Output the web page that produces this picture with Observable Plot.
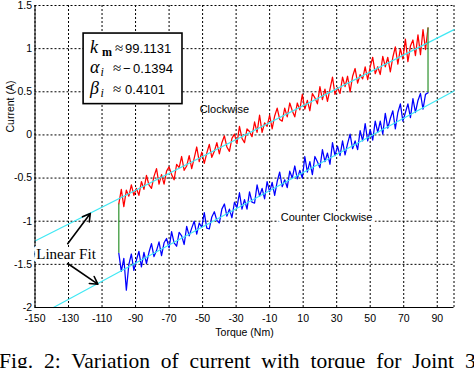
<!DOCTYPE html>
<html><head><meta charset="utf-8">
<script src="https://cdn.jsdelivr.net/npm/d3@7"></script>
<script src="https://cdn.jsdelivr.net/npm/@observablehq/plot@0.6"></script>
<style>
html,body{margin:0;padding:0;background:#fff;width:474px;height:368px;overflow:hidden;position:relative}
#chart{position:absolute;left:0;top:0}
#caption{position:absolute;left:-1px;top:351px;font-family:"Liberation Serif","Times New Roman",serif;font-size:21.5px;line-height:21.5px;word-spacing:5.5px;white-space:nowrap;color:#000}
</style></head><body>
<div id="chart"></div>
<div id="caption">Fig. 2: Variation of current with torque for Joint 3</div>
<script>
// torque sample grid (Nm)
const torque = d3.range(-100, 85, 1.5);
// measured current, clockwise (A)
const clockwise = [
-0.80,-0.63,-0.83,-0.64,-0.71,-0.58,-0.70,-0.62,-0.70,-0.54,
-0.63,-0.47,-0.58,-0.62,-0.48,-0.39,-0.57,-0.46,-0.57,-0.42,
-0.37,-0.46,-0.52,-0.34,-0.38,-0.25,-0.41,-0.36,-0.24,-0.39,
-0.27,-0.14,-0.31,-0.20,-0.33,-0.21,-0.11,-0.26,-0.19,-0.09,
-0.22,-0.09,-0.01,-0.14,-0.19,-0.04,0.01,-0.10,0.10,-0.04,
-0.09,0.07,0.04,-0.02,0.15,0.03,0.23,0.03,0.14,0.10,
0.23,0.07,0.22,0.31,0.18,0.16,0.31,0.21,0.37,0.28,
0.21,0.37,0.29,0.47,0.30,0.40,0.28,0.48,0.43,0.36,
0.56,0.41,0.53,0.39,0.53,0.67,0.47,0.55,0.48,0.67,
0.56,0.68,0.50,0.68,0.77,0.60,0.70,0.65,0.79,0.64,
0.79,0.90,0.71,0.79,0.70,0.91,0.79,0.90,0.73,0.90,
1.02,0.82,1.00,0.88,1.11,0.85,1.03,1.10,0.92,1.16,
0.93,1.22,0.99,1.24];
// measured current, counter clockwise (A)
const counterClockwise = [
-1.37,-1.58,-1.43,-1.80,-1.50,-1.38,-1.57,-1.45,-1.35,-1.53,
-1.36,-1.49,-1.36,-1.26,-1.41,-1.34,-1.24,-1.40,-1.25,-1.20,
-1.31,-1.12,-1.25,-1.29,-1.13,-1.17,-1.27,-1.06,-1.17,-1.08,
-1.00,-1.15,-1.02,-1.07,-0.90,-1.08,-1.09,-0.95,-0.89,-0.99,
-1.02,-0.86,-0.80,-0.94,-0.86,-0.96,-0.78,-0.84,-0.67,-0.86,
-0.75,-0.86,-0.66,-0.78,-0.79,-0.58,-0.71,-0.62,-0.74,-0.54,
-0.66,-0.55,-0.70,-0.54,-0.43,-0.60,-0.52,-0.61,-0.42,-0.50,
-0.36,-0.51,-0.41,-0.50,-0.25,-0.43,-0.31,-0.46,-0.25,-0.31,
-0.38,-0.17,-0.31,-0.21,-0.34,-0.09,-0.24,-0.13,-0.24,-0.07,
-0.23,-0.10,0.01,-0.16,-0.07,-0.17,0.05,-0.07,0.13,-0.07,
0.06,-0.06,0.16,0.03,0.16,0.01,0.25,0.08,0.19,0.28,
0.07,0.26,0.36,0.16,0.26,0.36,0.20,0.42,0.26,0.40,
0.48,0.30,0.47,0.49];
// linear fits (endpoints)
const fitUpperTorque = [-150, 100];
const fitUpperCurrent = [-1.23, 1.22];
const fitLowerTorque = [-139, 100];
const fitLowerCurrent = [-2.0, 0.51];
// direction switch segments
const switchTorque = [-100, 84.5];
const switchTop = [-0.80, 1.24];
const switchBottom = [-1.37, 0.49];
// tick values
const xTicks = [-150,-130,-110,-90,-70,-50,-30,-10,10,30,50,70,90];
const yTicks = [-2,-1.5,-1,-0.5,0,0.5,1,1.5];
// annotation arrows (data units)
const arrowFromTorque = [-130.5, -130.5];
const arrowFromCurrent = [-1.26, -1.49];
const arrowToTorque = [-117, -112.5];
const arrowToCurrent = [-0.91, -1.73];
// parameter box text
const paramValues = ["99.1131", "0.1394", "0.4101"];

const cw = torque.map((t, i) => ({t, c: clockwise[i]}));
const ccw = torque.map((t, i) => ({t, c: counterClockwise[i]}));
const upperFit = fitUpperTorque.map((t, i) => ({t, c: fitUpperCurrent[i]}));
const lowerFit = fitLowerTorque.map((t, i) => ({t, c: fitLowerCurrent[i]}));
const switches = switchTorque.map((t, i) => ({t, y1: switchTop[i], y2: switchBottom[i]}));
const arrows = arrowFromTorque.map((t, i) => ({x1: t, y1: arrowFromCurrent[i], x2: arrowToTorque[i], y2: arrowToCurrent[i]}));

const sans = '"Liberation Sans", Arial, Helvetica, sans-serif';
const serif = '"Liberation Serif", "Times New Roman", serif';
const dotted = {stroke: "#000", strokeOpacity: 1, strokeWidth: 1, strokeDasharray: "2,2"};

const plot = Plot.plot({
  width: 474, height: 346,
  marginLeft: 34.5, marginRight: 20.5, marginTop: 5, marginBottom: 39,
  style: {fontFamily: sans, fontSize: "10.5px", color: "#000", background: "#fff", overflow: "visible"},
  x: {domain: [-150, 100], label: null},
  y: {domain: [-2, 1.5], label: null},
  marks: [
    Plot.gridX(xTicks, dotted),
    Plot.gridY(yTicks, dotted),
    Plot.ruleX([100], dotted),
    Plot.line(cw, {x: "t", y: "c", stroke: "#ff0000", strokeWidth: 1.25}),
    Plot.line(ccw, {x: "t", y: "c", stroke: "#0000ff", strokeWidth: 1.25}),
    Plot.line(upperFit, {x: "t", y: "c", stroke: "#40e8f4", strokeWidth: 1.2}),
    Plot.line(lowerFit, {x: "t", y: "c", stroke: "#40e8f4", strokeWidth: 1.2}),
    Plot.ruleX(switches, {x: "t", y1: "y1", y2: "y2", stroke: "#3c9a3c", strokeWidth: 1.3}),
    Plot.ruleX([-150], {stroke: "#000", strokeWidth: 1}),
    Plot.ruleY([-2], {stroke: "#000", strokeWidth: 1}),
    Plot.axisX(xTicks, {tickSize: 0, tickPadding: 7, tickFormat: d => String(d), label: null, fill: "#000"}),
    Plot.axisY(yTicks, {tickSize: 0, tickPadding: 3, tickFormat: d => String(d), label: null, fill: "#000"}),
    Plot.text(["Current (A)"], {frameAnchor: "left", rotate: -90, dx: -24, dy: -24, fontSize: 10.5, fill: "#000"}),
    Plot.text(["Torque (Nm)"], {frameAnchor: "bottom", dy: 28, fontSize: 10.5, fill: "#000"}),
    Plot.text(["Clockwise"], {x: -37, y: 0.30, fontSize: 11, fill: "#000"}),
    Plot.text(["Counter Clockwise"], {x: 24, y: -0.96, fontSize: 11, fill: "#000", stroke: "#fff", strokeWidth: 7}),
    Plot.text(["Linear Fit"], {x: -131.5, y: -1.38, fontSize: 15, fontFamily: serif, fill: "#000", stroke: "#fff", strokeWidth: 6}),
    Plot.arrow(arrows, {x1: "x1", y1: "y1", x2: "x2", y2: "y2", stroke: "#000", strokeWidth: 1.6, headLength: 8})
  ]
});

// parameter box
const sx = plot.scale("x"), sy = plot.scale("y");
const svg = d3.select(plot);
const bx = sx.apply(-121), by = sy.apply(1.175);
const bw = sx.apply(-62) - bx, bh = sy.apply(0.357) - by;
const g = svg.append("g").attr("text-anchor", "start");
g.append("rect").attr("x", bx).attr("y", by).attr("width", bw).attr("height", bh)
  .attr("fill", "#fff").attr("stroke", "#000").attr("stroke-width", 1.6);
function paramLine(baseline, sym, sub, subItalic, approxX, minus, numX, value) {
  const t = g.append("text").attr("y", by + baseline).attr("fill", "#000").attr("text-anchor", "start");
  t.append("tspan").attr("x", bx + 7).attr("font-family", serif).attr("font-style", "italic").attr("font-size", 18).text(sym);
  t.append("tspan").attr("x", bx + (subItalic ? 17.5 : 19)).attr("dy", 3).attr("font-family", serif)
    .attr("font-style", subItalic ? "italic" : "normal").attr("font-weight", subItalic ? "normal" : "bold").attr("font-size", 12).text(sub);
  t.append("tspan").attr("x", bx + approxX).attr("dy", -3).attr("font-family", serif).attr("font-size", 15).text("≈");
  if (minus) t.append("tspan").attr("x", bx + 40).attr("font-family", sans).attr("font-size", 13).text("−");
  t.append("tspan").attr("x", bx + numX).attr("font-family", sans).attr("font-size", 13).text(value);
}
paramLine(20, "k", "m", false, 32, false, 42, paramValues[0]);
paramLine(40, "α", "i", true, 30, true, 50, paramValues[1]);
paramLine(60.5, "β", "i", true, 30, false, 42, paramValues[2]);

document.getElementById("chart").appendChild(plot);
</script></body></html>
